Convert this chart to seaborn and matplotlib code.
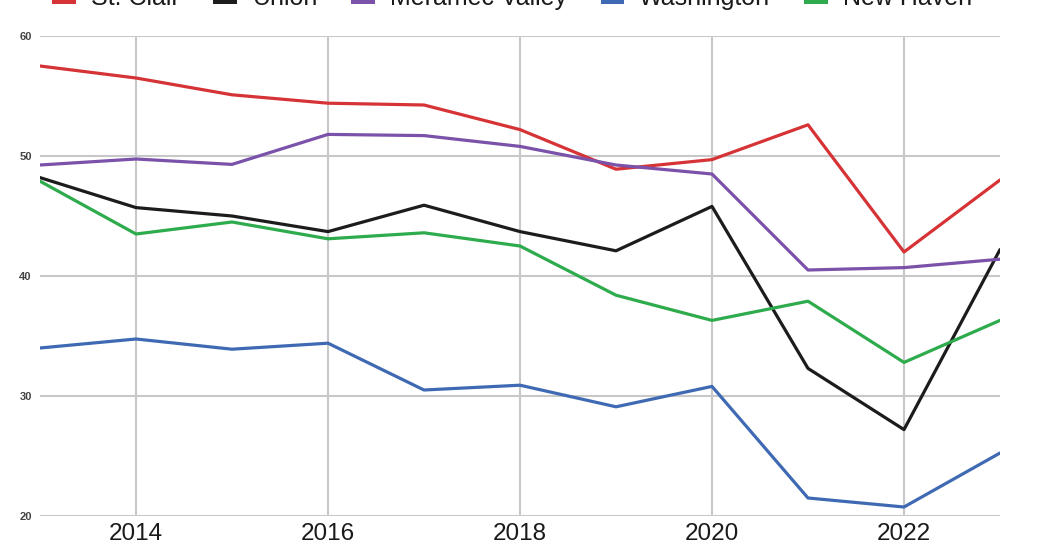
import pandas
import seaborn as sns
import matplotlib.pyplot as plt
from matplotlib.patches import Patch

years = [2013, 2014, 2015, 2016, 2017, 2018, 2019, 2020, 2021, 2022, 2023]

st_clair = [57.5, 56.5, 55.1, 54.4, 54.25, 52.2, 48.9, 49.7, 52.6, 42.0, 48.0]
union = [48.2, 45.7, 45.0, 43.7, 45.9, 43.7, 42.1, 45.8, 32.3, 27.2, 42.2]
meramec_valley = [49.25, 49.75, 49.3, 51.8, 51.7, 50.8, 49.25, 48.5, 40.5, 40.7, 41.4]
washington = [34.0, 34.75, 33.9, 34.4, 30.5, 30.9, 29.1, 30.8, 21.5, 20.75, 25.25]
new_haven = [47.9, 43.5, 44.5, 43.1, 43.6, 42.5, 38.4, 36.3, 37.9, 32.8, 36.3]

schools = ['St. Clair', 'Union', 'Meramec Valley', 'Washington', 'New Haven']
colors = ['#d63336', '#1c1c1c', '#7a52aa', '#3f6ab3', '#2eab4c']

rows = []
for name, vals in zip(schools, [st_clair, union, meramec_valley, washington, new_haven]):
    for y, v in zip(years, vals):
        rows.append({'year': y, 'value': v, 'school': name})
df = pandas.DataFrame(rows)

sns.set_style('white')
plt.rcParams['font.family'] = ['Liberation Sans', 'DejaVu Sans']

fig = plt.figure(figsize=(10.58, 5.55), dpi=100)
ax = fig.add_axes([40 / 1058, 39 / 555, 960 / 1058, 480 / 555])

sns.lineplot(data=df, x='year', y='value', hue='school', palette=colors,
             hue_order=schools, linewidth=2.3, ax=ax, legend=False)

ax.set_xlim(2013, 2023)
ax.set_ylim(20, 60)
ax.set_xticks([2014, 2016, 2018, 2020, 2022])
ax.set_yticks([20, 30, 40, 50, 60])
ax.grid(True, color='#c8c8c8', linewidth=1.5)
ax.set_axisbelow(True)
for s in ax.spines.values():
    s.set_visible(False)
ax.tick_params(axis='x', length=0, pad=5, labelsize=17.5, labelcolor='#1a1a1a')
ax.tick_params(axis='y', length=0, pad=6, labelsize=8, labelcolor='#444444')
for lab in ax.get_yticklabels():
    lab.set_fontweight('bold')
ax.set_xlabel('')
ax.set_ylabel('')

# legend sits partly above the top edge, as in the cropped source image
handles = [Patch(facecolor=c, edgecolor='none') for c in colors]
fig.legend(handles, schools, loc='center', bbox_to_anchor=(0.484, 1.003), ncol=5,
           frameon=False, fontsize=18, handlelength=0.95, handleheight=0.6,
           handletextpad=0.6, columnspacing=1.35, labelcolor='#1a1a1a')

plt.savefig('out.png', dpi=100)
